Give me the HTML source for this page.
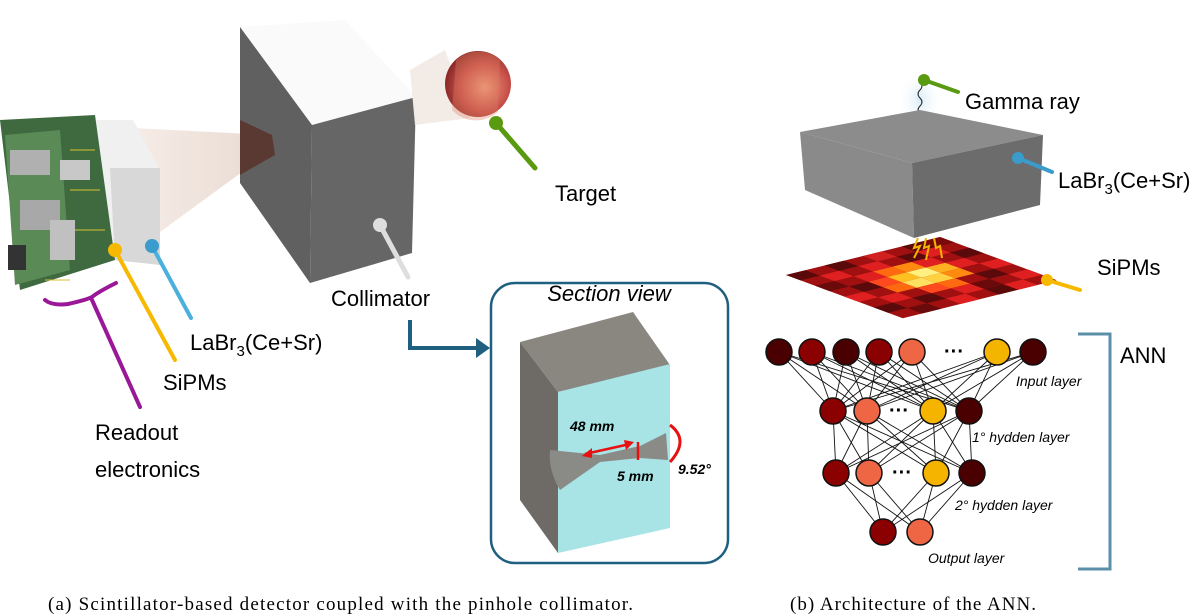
<!DOCTYPE html>
<html><head><meta charset="utf-8"><style>
body{margin:0;background:#fff}
svg{display:block}
text{font-family:"Liberation Sans",sans-serif}
</style></head><body>
<svg width="1200" height="616" viewBox="0 0 1200 616" xmlns="http://www.w3.org/2000/svg">
<defs>
<radialGradient id="sph" cx="0.6" cy="0.55" r="0.6"><stop offset="0" stop-color="#f0a080"/><stop offset="0.6" stop-color="#c8504a"/><stop offset="1" stop-color="#8a2a28"/></radialGradient>
<linearGradient id="cone1" x1="0" y1="0" x2="1" y2="0"><stop offset="0" stop-color="#f6ece6"/><stop offset="1" stop-color="#e8dad2"/></linearGradient>
<radialGradient id="glow" cx="0.5" cy="0.5" r="0.5"><stop offset="0" stop-color="#d8ecf8"/><stop offset="1" stop-color="#ffffff" stop-opacity="0"/></radialGradient>
</defs>

<polygon points="133,128 270,135 272,150 160,232" fill="url(#cone1)"/>
<polygon points="75,120 133,120 160,170 160,265 110,258 75,230" fill="#f0f0f0"/>
<polygon points="110,168 160,168 160,265 115,260" fill="#d8d8d8"/>
<g>
<polygon points="0,120 95,115 115,260 20,290" fill="#3f6a40"/>
<polygon points="5,135 60,130 70,270 15,285" fill="#5a8a55"/>
<rect x="10" y="150" width="40" height="25" fill="#b0b0b0"/>
<rect x="20" y="200" width="40" height="30" fill="#a8a8a8"/>
<rect x="8" y="245" width="18" height="25" fill="#333"/>
<rect x="60" y="160" width="30" height="20" fill="#c8c8c8"/>
<rect x="50" y="220" width="25" height="40" fill="#c0c0c0"/>
<g stroke="#d8c030" stroke-width="1"><line x1="70" y1="150" x2="95" y2="150"/><line x1="70" y1="190" x2="100" y2="190"/><line x1="75" y1="230" x2="105" y2="230"/><line x1="45" y1="280" x2="70" y2="280"/></g>
</g>

<polygon points="240,27 345,20 416,97 312,125" fill="#fafafa"/>
<polygon points="240,27 312,125 310,283 240,183" fill="#606060"/>
<polygon points="312,125 416,97 412,253 310,283" fill="#666"/>
<polygon points="240,120 272,135 275,155 240,175" fill="#5a3028" opacity="0.8"/>

<polygon points="410,70 445,50 470,118 415,125" fill="#f3ebe6"/>
<circle cx="478" cy="84" r="33" fill="url(#sph)"/>
<path d="M456,60 A33 33 0 0 1 500,60 L498,112 A33 33 0 0 1 452,110 Z" fill="#e08060" opacity="0.35"/>

<line x1="496" y1="123" x2="535" y2="168" stroke="#5a9a10" stroke-width="5" stroke-linecap="round"/>
<circle cx="496" cy="123" r="7" fill="#5a9a10"/>
<line x1="380" y1="225" x2="408" y2="277" stroke="#dedede" stroke-width="5" stroke-linecap="round"/>
<circle cx="380" cy="225" r="7" fill="#dedede"/>
<line x1="115" y1="250" x2="175" y2="360" stroke="#f7b800" stroke-width="4" stroke-linecap="round"/>
<circle cx="115" cy="250" r="7" fill="#f7b800"/>
<line x1="152" y1="246" x2="191" y2="318" stroke="#4ab0dc" stroke-width="4" stroke-linecap="round"/>
<circle cx="152" cy="246" r="7" fill="#3a9ccc"/>
<path d="M45,300 Q52,306 68,304 Q86,300 92,297 Q98,292 116,283" fill="none" stroke="#9a1898" stroke-width="4" stroke-linecap="round"/>
<line x1="92" y1="300" x2="140" y2="407" stroke="#9a1898" stroke-width="4" stroke-linecap="round"/>

<text x="555" y="201" font-size="22">Target</text>
<text x="331" y="306" font-size="22">Collimator</text>
<text x="190" y="350" font-size="22">LaBr<tspan font-size="15" dy="6">3</tspan><tspan dy="-6">(Ce+Sr)</tspan></text>
<text x="163" y="390" font-size="22">SiPMs</text>
<text x="95" y="440" font-size="22">Readout</text>
<text x="95" y="477" font-size="22">electronics</text>

<polyline points="410,320 410,348 478,348" fill="none" stroke="#1f6080" stroke-width="4"/>
<polygon points="476,338 490,348 476,358" fill="#1f6080"/>

<rect x="491" y="283" width="237" height="280" rx="24" fill="#fff" stroke="#1f5f80" stroke-width="2.5"/>
<text x="609" y="301" font-size="22" font-style="italic" text-anchor="middle">Section view</text>
<polygon points="520,342 633,312 670,365 558,392" fill="#8a8780"/>
<polygon points="520,342 558,392 558,553 520,500" fill="#6e6b66"/>
<polygon points="558,392 670,364 670,528 558,553" fill="#a8e4e6"/>
<path d="M550,450 L600,455 L640,446 L666,433 L668,460 L640,458 L600,462 L560,490 Q548,470 550,450 Z" fill="#8a8a86"/>
<path d="M585,454 L630,444" stroke="#e81010" stroke-width="2.5"/>
<polygon points="582,456 592,448 592,458" fill="#e81010"/><polygon points="634,442 624,440 626,450" fill="#e81010"/>
<line x1="638" y1="442" x2="638" y2="460" stroke="#e81010" stroke-width="2.5"/>
<path d="M670,425 Q690,440 670,462" fill="none" stroke="#e81010" stroke-width="3"/>
<text x="570" y="431" font-size="14" font-weight="bold" font-style="italic">48 mm</text>
<text x="617" y="481" font-size="14" font-weight="bold" font-style="italic">5 mm</text>
<text x="678" y="474" font-size="14" font-weight="bold" font-style="italic">9.52°</text>

<ellipse cx="920" cy="100" rx="22" ry="30" fill="url(#glow)"/>
<path d="M920,82 q4,4 0,8 q-4,4 0,8 q4,4 0,8 q-4,4 0,8 q4,4 0,8 q-4,4 0,8 L920,140" fill="none" stroke="#222" stroke-width="1"/>
<polygon points="917,138 923,138 920,143" fill="#222"/>
<line x1="924" y1="80" x2="958" y2="92" stroke="#5a9a10" stroke-width="4" stroke-linecap="round"/>
<circle cx="924" cy="80" r="6" fill="#5a9a10"/>
<text x="965" y="109" font-size="22">Gamma ray</text>
<polygon points="800,132 920,110 1043,135 912,163" fill="#8c8c8c"/>
<polygon points="800,132 912,163 914,238 805,190" fill="#8a8a8a"/>
<polygon points="912,163 1043,135 1040,205 914,238" fill="#6c6c6c"/>
<line x1="1018" y1="158" x2="1052" y2="172" stroke="#3a9ccc" stroke-width="4" stroke-linecap="round"/>
<circle cx="1018" cy="158" r="6" fill="#3a9ccc"/>
<text x="1058" y="188" font-size="22">LaBr<tspan font-size="15" dy="6">3</tspan><tspan dy="-6">(Ce+Sr)</tspan></text>

<g transform="matrix(19.25,-4.75,14.6,5.4,786,275)">
<rect x="0" y="0" width="8" height="8" fill="#a01010"/>
<rect x="0" y="0" width="1" height="1" fill="#5a0a0a"/><rect x="2" y="0" width="1" height="1" fill="#5a0a0a"/><rect x="4" y="0" width="1" height="1" fill="#d02020"/><rect x="6" y="0" width="1" height="1" fill="#5a0a0a"/><rect x="7" y="0" width="1" height="1" fill="#7a0a0a"/>
<rect x="1" y="1" width="1" height="1" fill="#e02020"/><rect x="3" y="1" width="1" height="1" fill="#e02020"/><rect x="5" y="1" width="1" height="1" fill="#5a0a0a"/><rect x="6" y="1" width="1" height="1" fill="#e02020"/>
<rect x="0" y="2" width="1" height="1" fill="#6a0a0a"/><rect x="2" y="2" width="1" height="1" fill="#e02020"/><rect x="3" y="2" width="1" height="1" fill="#ff6a10"/><rect x="4" y="2" width="1" height="1" fill="#ff8a10"/><rect x="5" y="2" width="1" height="1" fill="#e02020"/><rect x="7" y="2" width="1" height="1" fill="#5a0a0a"/>
<rect x="1" y="3" width="1" height="1" fill="#5a0a0a"/><rect x="2" y="3" width="1" height="1" fill="#ff4a20"/><rect x="3" y="3" width="1" height="1" fill="#ffc020"/><rect x="4" y="3" width="1" height="1" fill="#fff080"/><rect x="5" y="3" width="1" height="1" fill="#ffb020"/><rect x="6" y="3" width="1" height="1" fill="#e02020"/>
<rect x="0" y="4" width="1" height="1" fill="#e02020"/><rect x="2" y="4" width="1" height="1" fill="#ff6a10"/><rect x="3" y="4" width="1" height="1" fill="#ffe060"/><rect x="4" y="4" width="1" height="1" fill="#ffd040"/><rect x="5" y="4" width="1" height="1" fill="#ff8a10"/><rect x="7" y="4" width="1" height="1" fill="#e02020"/>
<rect x="1" y="5" width="1" height="1" fill="#e02020"/><rect x="3" y="5" width="1" height="1" fill="#ff4a20"/><rect x="4" y="5" width="1" height="1" fill="#ff6a10"/><rect x="6" y="5" width="1" height="1" fill="#5a0a0a"/>
<rect x="0" y="6" width="1" height="1" fill="#5a0a0a"/><rect x="2" y="6" width="1" height="1" fill="#5a0a0a"/><rect x="4" y="6" width="1" height="1" fill="#e02020"/><rect x="5" y="6" width="1" height="1" fill="#6a0a0a"/><rect x="7" y="6" width="1" height="1" fill="#e02020"/>
<rect x="1" y="7" width="1" height="1" fill="#6a0a0a"/><rect x="3" y="7" width="1" height="1" fill="#e02020"/><rect x="5" y="7" width="1" height="1" fill="#5a0a0a"/><rect x="6" y="7" width="1" height="1" fill="#e02020"/>
</g>
<path d="M918,238 l-4,10 l6,-2 l-6,12 M926,238 l-2,10 l5,-2 l-3,14 M934,238 l2,10 l4,-2 l2,12" fill="none" stroke="#f5b400" stroke-width="2"/>
<line x1="1047" y1="280" x2="1080" y2="290" stroke="#f7b800" stroke-width="4" stroke-linecap="round"/>
<circle cx="1047" cy="280" r="6" fill="#f7b800"/>
<text x="1097" y="275" font-size="22">SiPMs</text>

<g stroke="#111" stroke-width="0.9">
<line x1="779" y1="352" x2="833" y2="411"/><line x1="779" y1="352" x2="867" y2="411"/><line x1="779" y1="352" x2="933" y2="411"/><line x1="779" y1="352" x2="969" y2="411"/>
<line x1="812" y1="352" x2="833" y2="411"/><line x1="812" y1="352" x2="867" y2="411"/><line x1="812" y1="352" x2="933" y2="411"/><line x1="812" y1="352" x2="969" y2="411"/>
<line x1="846" y1="352" x2="833" y2="411"/><line x1="846" y1="352" x2="867" y2="411"/><line x1="846" y1="352" x2="933" y2="411"/><line x1="846" y1="352" x2="969" y2="411"/>
<line x1="879" y1="352" x2="833" y2="411"/><line x1="879" y1="352" x2="867" y2="411"/><line x1="879" y1="352" x2="933" y2="411"/><line x1="879" y1="352" x2="969" y2="411"/>
<line x1="912" y1="352" x2="833" y2="411"/><line x1="912" y1="352" x2="867" y2="411"/><line x1="912" y1="352" x2="933" y2="411"/><line x1="912" y1="352" x2="969" y2="411"/>
<line x1="997" y1="352" x2="833" y2="411"/><line x1="997" y1="352" x2="867" y2="411"/><line x1="997" y1="352" x2="933" y2="411"/><line x1="997" y1="352" x2="969" y2="411"/>
<line x1="1033" y1="352" x2="833" y2="411"/><line x1="1033" y1="352" x2="867" y2="411"/><line x1="1033" y1="352" x2="933" y2="411"/><line x1="1033" y1="352" x2="969" y2="411"/>
<line x1="833" y1="411" x2="836" y2="473"/><line x1="833" y1="411" x2="869" y2="473"/><line x1="833" y1="411" x2="936" y2="473"/><line x1="833" y1="411" x2="972" y2="473"/>
<line x1="867" y1="411" x2="836" y2="473"/><line x1="867" y1="411" x2="869" y2="473"/><line x1="867" y1="411" x2="936" y2="473"/><line x1="867" y1="411" x2="972" y2="473"/>
<line x1="933" y1="411" x2="836" y2="473"/><line x1="933" y1="411" x2="869" y2="473"/><line x1="933" y1="411" x2="936" y2="473"/><line x1="933" y1="411" x2="972" y2="473"/>
<line x1="969" y1="411" x2="836" y2="473"/><line x1="969" y1="411" x2="869" y2="473"/><line x1="969" y1="411" x2="936" y2="473"/><line x1="969" y1="411" x2="972" y2="473"/>
<line x1="836" y1="473" x2="883" y2="532"/><line x1="836" y1="473" x2="920" y2="532"/>
<line x1="869" y1="473" x2="883" y2="532"/><line x1="869" y1="473" x2="920" y2="532"/>
<line x1="936" y1="473" x2="883" y2="532"/><line x1="936" y1="473" x2="920" y2="532"/>
<line x1="972" y1="473" x2="883" y2="532"/><line x1="972" y1="473" x2="920" y2="532"/>
</g>
<g stroke="#111" stroke-width="1.5">
<circle cx="779" cy="352" r="13" fill="#4a0000"/><circle cx="812" cy="352" r="13" fill="#8b0000"/><circle cx="846" cy="352" r="13" fill="#4a0000"/><circle cx="879" cy="352" r="13" fill="#8b0000"/><circle cx="912" cy="352" r="13" fill="#ee6644"/><circle cx="997" cy="352" r="13" fill="#f5b400"/><circle cx="1033" cy="352" r="13" fill="#4a0000"/>
<circle cx="833" cy="411" r="13" fill="#8b0000"/><circle cx="867" cy="411" r="13" fill="#ee6644"/><circle cx="933" cy="411" r="13" fill="#f5b400"/><circle cx="969" cy="411" r="13" fill="#4a0000"/>
<circle cx="836" cy="473" r="13" fill="#8b0000"/><circle cx="869" cy="473" r="13" fill="#ee6644"/><circle cx="936" cy="473" r="13" fill="#f5b400"/><circle cx="972" cy="473" r="13" fill="#4a0000"/>
<circle cx="883" cy="532" r="13" fill="#8b0000"/><circle cx="920" cy="532" r="13" fill="#ee6644"/>
</g>
<text x="954" y="358" font-size="20" font-weight="bold" text-anchor="middle">···</text>
<text x="899" y="417" font-size="20" font-weight="bold" text-anchor="middle">···</text>
<text x="902" y="479" font-size="20" font-weight="bold" text-anchor="middle">···</text>
<text x="1016" y="386" font-size="14" font-style="italic">Input layer</text>
<text x="972" y="442" font-size="14" font-style="italic">1° hydden layer</text>
<text x="955" y="510" font-size="14" font-style="italic">2° hydden layer</text>
<text x="928" y="563" font-size="14" font-style="italic">Output layer</text>
<polyline points="1078,334 1110,334 1110,569 1078,569" fill="none" stroke="#5b8fa8" stroke-width="3"/>
<text x="1120" y="363" font-size="22">ANN</text>

<text x="48" y="610" font-size="19" textLength="585" lengthAdjust="spacing" style="font-family:'Liberation Serif',serif">(a)  Scintillator-based detector coupled with the pinhole collimator.</text>
<text x="790" y="610" font-size="19" textLength="246" lengthAdjust="spacing" style="font-family:'Liberation Serif',serif">(b)  Architecture of the ANN.</text>
</svg>
</body></html>
